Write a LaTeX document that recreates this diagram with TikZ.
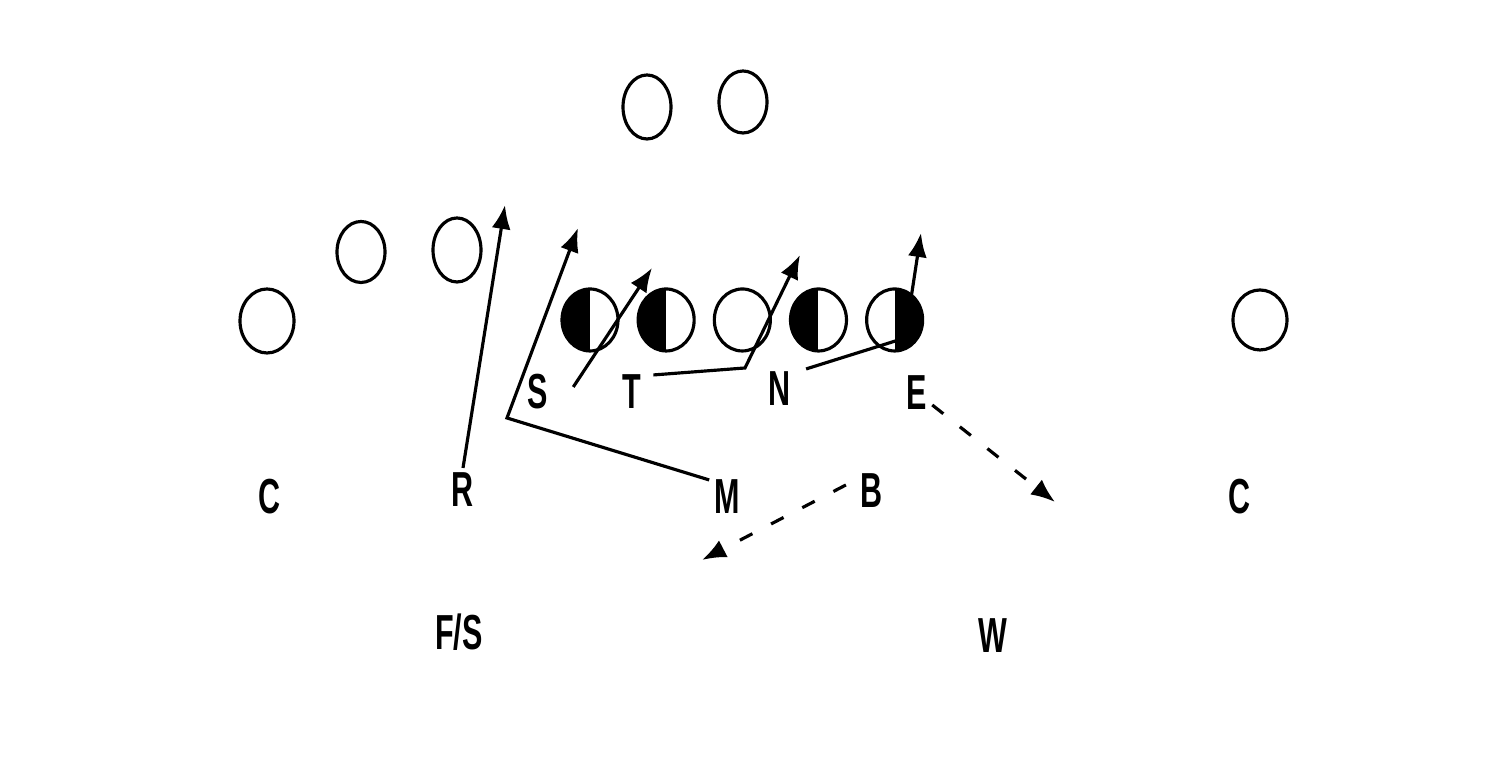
\documentclass[tikz,border=0pt]{standalone}
\usepackage{fontspec}
\newfontfamily\playfont[FakeStretch=0.62]{Liberation Sans}
\usetikzlibrary{positioning, arrows.meta, shapes.geometric}
\tikzset{
  >={Latex[length=2.4mm, width=1.9mm]},
  player/.style={draw, ellipse, inner sep=0pt, minimum width=4.8mm, minimum height=6.4mm},
  lineman/.style={player, minimum width=5.6mm, minimum height=6.2mm},
  leftdark/.style={path picture={\fill (path picture bounding box.south west) rectangle (path picture bounding box.north);}},
  rightdark/.style={path picture={\fill (path picture bounding box.south) rectangle (path picture bounding box.north east);}},
  defender/.style={font=\playfont\bfseries\fontsize{14}{14}\selectfont, inner sep=1pt},
  route/.style={->},
  drop/.style={->, dash pattern=on 4pt off 6pt},
}

\begin{document}
\begin{tikzpicture}[line width=0.9pt, node distance=1.7mm]
  \useasboundingbox (0,0) rectangle (15,7.75);

  % offense
  \node[player] (qb1) at (6.47,6.68) {};
  \node[player, minimum height=6.2mm] (qb2) at (7.43,6.73) {};
  \node[player, minimum width=5.4mm] (wl) at (2.67,4.54) {};
  \node[player, minimum height=6.1mm] (sl1) at (3.61,5.23) {};
  \node[player] (sl2) at (4.57,5.25) {};
  \node[player, minimum width=5.4mm, minimum height=6mm] (wr) at (12.60,4.55) {};
  \node[lineman, leftdark] (ol1) at (5.90,4.55) {};
  \node[lineman, leftdark, right=of ol1] (ol2) {};
  \node[lineman, right=of ol2] (ol3) {};
  \node[lineman, leftdark, right=of ol3] (ol4) {};
  \node[lineman, rightdark, right=of ol4] (ol5) {};

  % defense
  \node[defender] (S) at (5.38,3.83) {S};
  \node[defender] (T) at (6.32,3.83) {T};
  \node[defender] (N) at (7.80,3.86) {N};
  \node[defender] (E) at (9.17,3.82) {E};
  \node[defender] (CL) at (2.70,2.78) {C};
  \node[defender] (R) at (4.63,2.85) {R};
  \node[defender] (M) at (7.27,2.78) {M};
  \node[defender] (B) at (8.72,2.84) {B};
  \node[defender] (CR) at (12.40,2.78) {C};
  \node[defender] (FS) at (4.59,1.43) {F/S};
  \node[defender] (W) at (9.93,1.39) {W};

  \coordinate (rTip) at (5.05,5.70);
  \coordinate (mTurn) at (5.07,3.57);
  \coordinate (mTip) at (5.78,5.47);
  \coordinate (sTip) at (6.52,5.07);
  \coordinate (tTurn) at (7.45,4.07);
  \coordinate (tTip) at (8.00,5.20);
  \coordinate (nTurn) at (9.05,4.37);
  \coordinate (nTip) at (9.21,5.42);
  \coordinate (eTip) at (10.55,2.73);
  \coordinate (bTip) at (7.02,2.15);

  % stunts and drops
  \draw[route] (R.north) -- (rTip);
  \draw[route] ([yshift=-0.5mm]M.north west) -- (mTurn) -- (mTip);
  \draw[route] ([shift={(2mm,0.5mm)}]S.east) -- (sTip);
  \draw[route] ([shift={(0.7mm,-0.5mm)}]T.north east) -- (tTurn) -- (tTip);
  \draw[route] ([shift={(1mm,-0.2mm)}]N.north east) -- (nTurn) -- (nTip);
  \draw[drop] ([yshift=1mm]E.south east) -- (eTip);
  \draw[drop] ([shift={(-1mm,0.6mm)}]B.west) -- (bTip);
\end{tikzpicture}
\end{document}
